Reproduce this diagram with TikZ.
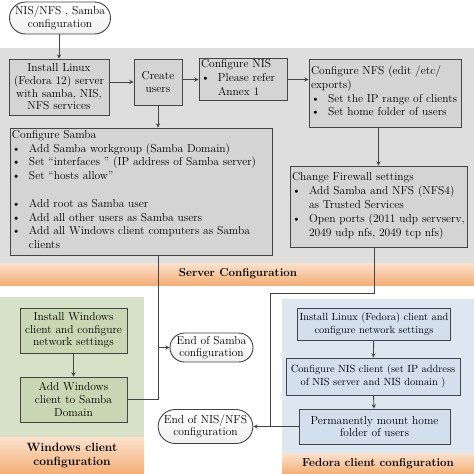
\documentclass[tikz,border=0pt]{standalone}
\usepackage{amsmath}
\usepackage{xcolor}
\usepackage{tikz}
\usetikzlibrary{shapes.misc,arrows,positioning}

\definecolor{srvbg}{HTML}{DEDEDE}
\definecolor{srvbox}{HTML}{D4D4D4}
\definecolor{winbg}{HTML}{D7E1C8}
\definecolor{winbox}{HTML}{C9D6B3}
\definecolor{fedbg}{HTML}{DDE7F1}
\definecolor{fedbox}{HTML}{D3DFEC}
\definecolor{bandtop}{HTML}{FBE2CE}
\definecolor{bandbot}{HTML}{F4AE76}
\definecolor{linec}{HTML}{444444}

\newcommand{\fs}{\fontsize{11.5}{13.8}\selectfont\lineskip=0pt}
\newcommand{\fsc}{\fontsize{11.5}{12.6}\selectfont}
\newcommand{\fsf}{\fontsize{10.4}{12.4}\selectfont}
\newcommand{\bul}[1]{\par\noindent\makebox[17pt][l]{\textbullet}\parbox[t]{\dimexpr\hsize-17pt\relax}{\raggedright\strut #1\strut}}

\tikzset{
  box/.style={draw=linec, line width=0.9pt, fill=srvbox, inner xsep=2pt, inner ysep=1pt, font=\fs},
  cbox/.style={box, align=center, font=\fsc},
  lbox/.style={box, align=left},
  fbox/.style={cbox, fill=fedbox, font=\fsf},
  endbox/.style={draw=linec, line width=0.9pt, rounded rectangle, top color=white, bottom color=gray!12, align=center, font=\fsc, inner sep=1pt},
  band/.style={font=\fs\bfseries, align=center},
  conn/.style={draw=linec, line width=0.9pt},
}

\begin{document}
\begin{tikzpicture}[x=1pt, y=-1pt]
\useasboundingbox (0,0) rectangle (474,474);

% regions
\fill[srvbg] (0,48) rectangle (474,285);
\shade[top color=bandtop, bottom color=bandbot] (0,263) rectangle (474,285);
\fill[winbg] (0,297) rectangle (144,474);
\shade[top color=bandtop, bottom color=bandbot] (0,437) rectangle (144,474);
\fill[fedbg] (282,299) rectangle (474,474);
\shade[top color=bandtop, bottom color=bandbot] (282,453) rectangle (474,474);

\node[band] (srvlabel) at (238,274) {Server Configuration};
\node[band, font=\fontsize{12}{14}\selectfont\bfseries] (winlabel) at (72,455.5) {Windows client\\configuration};
\node[band] (fedlabel) at (378,463.5) {Fedora client configuration};

% server side
\node[endbox, minimum width=103pt, minimum height=32pt] (start) at (60,18) {NIS/NFS , Samba\\configuration};
\node[cbox, text width=96pt, minimum height=56pt] (install) at (59,87) {Install Linux\\(Fedora 12) server\\with samba, NIS,\\NFS services};
\node[cbox, text width=44pt, minimum height=46pt] (create) at (158,82) {Create\\users};
\node[lbox, text width=84pt, minimum height=41pt] (nis) at (243,79.5) {Configure NIS\bul{Please refer Annex 1}};
\node[lbox, text width=148pt, minimum height=68pt] (nfs) at (385,93) {Configure NFS (edit /etc/\\exports)\bul{Set the IP range of clients}\bul{Set home folder of users}};
\node[lbox, text width=258pt, minimum height=127pt] (samba) at (141,191.5) {Configure Samba\bul{Add Samba workgroup (Samba Domain)}\bul{Set ``interfaces '' (IP address of Samba server)}\bul{Set ``hosts allow''}\par\mbox{}\bul{Add root as Samba user}\bul{Add all other users as Samba users}\bul{Add all Windows client computers as Samba clients}};
\node[lbox, text width=173pt, minimum height=81pt] (firewall) at (378.5,206.5) {Change Firewall settings\bul{Add Samba and NFS (NFS4) as Trusted Services}\bul{Open ports (2011 udp servserv, 2049 udp nfs, 2049 tcp nfs)}};

% windows client
\node[cbox, fill=winbox, text width=103pt, minimum height=45pt] (winst) at (73.5,330.5) {Install Windows\\client and  configure\\network settings};
\node[cbox, fill=winbox, text width=103pt, minimum height=45pt] (wadd) at (73.5,399.5) {Add Windows\\client to Samba\\Domain};

% fedora client
\node[fbox, minimum width=152pt, minimum height=32pt] (finst) at (374,324) {Install Linux (Fedora) client and\\configure network settings};
\node[fbox, minimum width=174pt, minimum height=37pt] (fnis) at (373,376.5) {Configure NIS client (set IP address\\of NIS server and NIS domain )};
\node[fbox, minimum width=151pt, minimum height=35pt, font=\fsc] (fmount) at (374.5,426.5) {Permanently mount home\\folder of users};

% ends
\node[endbox, minimum width=85pt, minimum height=29pt] (endsamba) at (211.5,347.5) {End of Samba\\configuration};
\node[endbox, minimum width=89pt, minimum height=34pt] (endnis) at (205.5,426.5) {End of NIS/NFS\\configuration};

% connectors
\draw[conn, -stealth] (start.south -| install.north) -- (install.north);
\draw[conn, -stealth] (install.east |- create.west) -- (create.west);
\draw[conn, -stealth] (create.east |- nis.west) -- (nis.west);
\draw[conn, -stealth] (nis.east) -- (nis.east -| nfs.west);
\draw[conn, -stealth] (create.south) -- (create.south |- samba.north);
\draw[conn, -stealth] (firewall.north |- nfs.south) -- (firewall.north);
\draw[conn, -stealth] (winst) -- (wadd);
\draw[conn, -stealth] (finst) -- (fnis);
\draw[conn, -stealth] (fnis) -- (fmount);

\draw[conn] (create.south |- samba.south) |- (wadd.east);
\draw[conn, -stealth] (create.south |- endsamba.west) -- (endsamba.west);

\coordinate (fj) at (270,293);
\draw[conn] (finst.north |- firewall.south) |- (fj) |- (fmount.west);
\draw[conn, -stealth] (fj |- endnis.east) -- (endnis.east);
\end{tikzpicture}
\end{document}
